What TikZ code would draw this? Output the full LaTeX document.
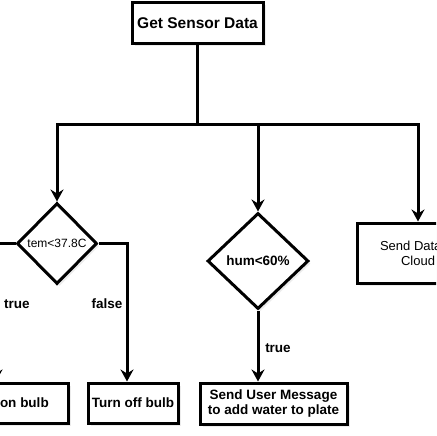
\documentclass[tikz,border=0pt]{standalone}
\usepackage{fontspec}
\setmainfont{Liberation Sans}
\usetikzlibrary{shapes.geometric,arrows.meta,shadows}

\begin{document}
\begin{tikzpicture}[x=1pt,y=-1pt,line width=3pt,
  font=\fontsize{13.5}{15.5}\selectfont\bfseries,
  box/.style={draw,fill=white,rectangle,inner sep=0pt,align=center,
    drop shadow={shadow xshift=2.5pt,shadow yshift=-2.5pt,fill=black!15}},
  cond/.style={draw,fill=white,diamond,inner sep=0pt,
    drop shadow={shadow xshift=2.5pt,shadow yshift=-2.5pt,fill=black!15}},
  lbl/.style={fill=white,inner sep=1pt},
  arr/.style={-{Stealth[length=12pt,width=13pt,inset=4pt]}}]
  \useasboundingbox (0,0) rectangle (436,436);
  \clip (0,0) rectangle (436,436);
  % ---------------- nodes ----------------
  \node[box,minimum width=131pt,minimum height=41pt,
    font=\fontsize{15.5}{17}\selectfont\bfseries] (gsd) at (197.5,23.5) {Get Sensor Data};
  \node[cond,minimum width=80pt,minimum height=81pt,
    font=\fontsize{12}{14}\selectfont] (tem) at (57,243.5) {tem<37.8C};
  \node[cond,minimum width=101pt,minimum height=96pt] (hum) at (258,261) {hum<60\%};
  \node[box,minimum width=122pt,minimum height=60pt,
    font=\fontsize{13}{15}\selectfont] (cloud) at (418,253) {Send Data to\\Cloud};
  \node[box,minimum width=120pt,minimum height=40pt] (on) at (8,403) {Turn on bulb};
  \node[box,minimum width=90pt,minimum height=40pt] (off) at (133,403) {Turn off bulb};
  \node[box,minimum width=147pt,minimum height=41pt] (msg) at (273.5,403.5)
    {Send User Message\\to add water to plate};
  % ---------------- connectors ----------------
  \coordinate (split) at (197.5,124);
  \draw (gsd.south) -- (split);
  \draw[arr] (split) -| (tem.north);
  \draw[arr] (split) -| (hum.north);
  \draw[arr] (split) -| (cloud.north);
  \coordinate (tl) at (-4,243.5);
  \coordinate (tr) at (127,243.5);
  \draw[arr] (tem.west) -- (tl) -- (tl |- on.north);
  \draw[arr] (tem.east) -- (tr) -- (tr |- off.north);
  \draw[arr] (hum.south) -- (hum.south |- msg.north);
  % ---------------- labels ----------------
  \node[lbl] (t1) at (17,304) {true};
  \node[lbl] (f1) at (107,304) {false};
  \node[lbl] (t2) at (278,348) {true};
\end{tikzpicture}
\end{document}
